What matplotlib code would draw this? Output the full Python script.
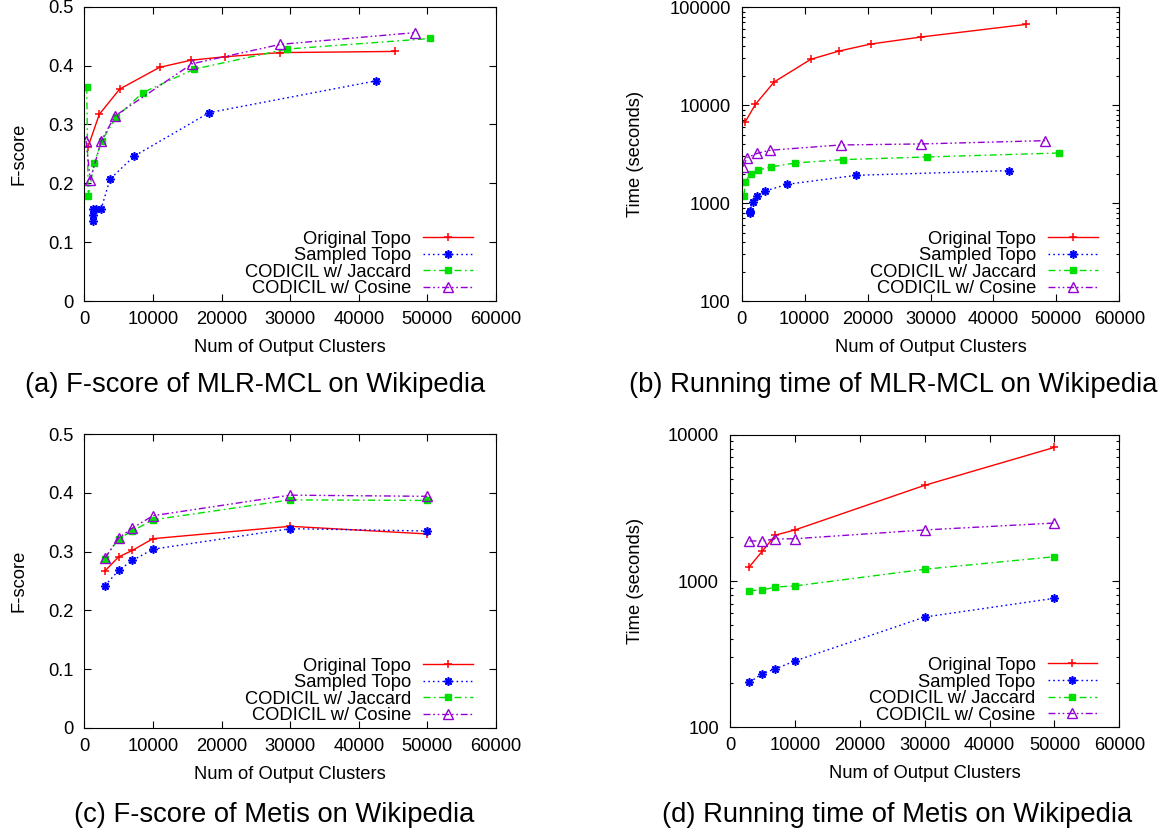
import numpy as np
import matplotlib
matplotlib.use("Agg")
import matplotlib.pyplot as plt
from matplotlib.ticker import FixedLocator, FuncFormatter, LogLocator, NullFormatter

# ---- data ----
# (a)/(b) MLR-MCL on Wikipedia
mlr_orig_x = [550, 2180, 5150, 10970, 15500, 20520, 28530, 45230]
mlr_orig_f = [0.262, 0.317, 0.360, 0.397, 0.409, 0.415, 0.422, 0.424]
mlr_orig_t = [6740, 10200, 17270, 29420, 35800, 42170, 49750, 66950]

mlr_samp_x = [1250, 1300, 1330, 1750, 2450, 3750, 7250, 18200, 42500]
mlr_samp_f = [0.136, 0.146, 0.156, 0.156, 0.156, 0.207, 0.246, 0.320, 0.374]
mlr_samp_t = [800, 820, 840, 1035, 1183, 1330, 1556, 1922, 2147]

mlr_jac_x = [355, 560, 1470, 2520, 4640, 8510, 16040, 29520, 50420]
mlr_jac_f = [0.364, 0.178, 0.235, 0.272, 0.312, 0.354, 0.394, 0.428, 0.446]
mlr_jac_t = [1191, 1656, 2000, 2163, 2339, 2570, 2780, 2960, 3250]

mlr_cos_x = [255, 860, 2480, 4430, 15700, 28560, 48220]
mlr_cos_f = [0.272, 0.206, 0.272, 0.314, 0.403, 0.436, 0.456]
mlr_cos_t = [2356, 2913, 3226, 3462, 3925, 4020, 4345]

# (c)/(d) Metis on Wikipedia
metis_x = [3000, 5000, 7000, 10000, 30000, 50000]
metis_orig_f = [0.267, 0.291, 0.302, 0.322, 0.343, 0.330]
metis_samp_f = [0.242, 0.268, 0.285, 0.304, 0.339, 0.335]
metis_jac_f = [0.288, 0.322, 0.335, 0.354, 0.388, 0.387]
metis_cos_f = [0.289, 0.323, 0.340, 0.361, 0.396, 0.394]
metis_orig_t = [1253, 1603, 2060, 2233, 4508, 8190]
metis_samp_t = [203, 233, 251, 284, 567, 762]
metis_jac_t = [859, 868, 910, 925, 1203, 1466]
metis_cos_t = [1877, 1880, 1937, 1945, 2233, 2490]

labels = ["Original Topo", "Sampled Topo", "CODICIL w/ Jaccard", "CODICIL w/ Cosine"]

plt.rcParams["font.family"] = ["Liberation Sans", "DejaVu Sans"]
plt.rcParams["font.size"] = 13.2

W, H = 1159, 831
fig = plt.figure(figsize=(W / 100, H / 100), dpi=100)


def px_axes(l, t, r, b):
    return fig.add_axes([l / W, 1 - b / H, (r - l) / W, (b - t) / H])


styles = [
    dict(color="#ff0000", ls="-", marker="+", ms=6, mew=1.1),
    dict(color="#0000ff", ls=(0, (1.2, 2.2)), marker=(8, 2, 0), ms=6, mew=1.2),
    dict(color="#00e000", ls=(0, (5, 2.5, 1.2, 2.5)), marker="s", ms=5),
    dict(color="#9400d3", ls=(0, (5, 2, 1.2, 2, 1.2, 2)), marker="^", ms=6.5,
         mfc="none", mew=1.0),
]


def draw(ax, series, logy, ylabel, ylab_x):
    for (xs, ys), st, lab in zip(series, styles, labels):
        ax.plot(xs, ys, lw=1.0, label=lab, **st)
    ax.set_xlim(0, 60000)
    ax.xaxis.set_major_locator(FixedLocator(np.arange(0, 60001, 10000)))
    ax.xaxis.set_major_formatter(FuncFormatter(lambda v, p: "%d" % v))
    if logy:
        ax.set_yscale("log")
        ax.yaxis.set_major_locator(LogLocator(base=10, numticks=10))
        ax.yaxis.set_minor_locator(LogLocator(base=10, subs=np.arange(2, 10), numticks=10))
        ax.yaxis.set_minor_formatter(NullFormatter())
        ax.yaxis.set_major_formatter(FuncFormatter(lambda v, p: "%d" % round(v)))
    else:
        ax.set_ylim(0, 0.5)
        ax.yaxis.set_major_locator(FixedLocator(np.arange(0, 0.51, 0.1)))
        ax.yaxis.set_major_formatter(FuncFormatter(lambda v, p: "%g" % round(v, 1)))
    ax.tick_params(which="both", direction="in", top=True, right=True, width=0.8)
    ax.tick_params(which="major", length=5, pad=8)
    ax.tick_params(which="minor", length=2.5)
    ax.tick_params(axis="x", pad=7)
    for sp in ax.spines.values():
        sp.set_linewidth(0.8)
    ax.set_xlabel("Num of Output Clusters")
    ax.xaxis.set_label_coords(0.5, -0.13)
    ax.set_ylabel(ylabel)
    ax.yaxis.set_label_coords(ylab_x, 0.5)
    ax.legend(loc="lower right", bbox_to_anchor=(0.943, 0.012), frameon=False,
              markerfirst=False, borderpad=0, borderaxespad=0, handlelength=2.7,
              handletextpad=0.65, labelspacing=-0.02, numpoints=1)


ax_a = px_axes(84.3, 6.7, 496, 301)
ax_b = px_axes(741.7, 7.3, 1119.3, 301)
ax_c = px_axes(84.3, 434, 496, 728)
ax_d = px_axes(730, 434.7, 1119.3, 727.3)

draw(ax_a, [(mlr_orig_x, mlr_orig_f), (mlr_samp_x, mlr_samp_f),
            (mlr_jac_x, mlr_jac_f), (mlr_cos_x, mlr_cos_f)], False, "F-score", -0.139)
draw(ax_b, [(mlr_orig_x, mlr_orig_t), (mlr_samp_x, mlr_samp_t),
            (mlr_jac_x, mlr_jac_t), (mlr_cos_x, mlr_cos_t)], True, "Time (seconds)", -0.259)
ax_b.set_ylim(100, 100000)
draw(ax_c, [(metis_x, metis_orig_f), (metis_x, metis_samp_f),
            (metis_x, metis_jac_f), (metis_x, metis_cos_f)], False, "F-score", -0.139)
draw(ax_d, [(metis_x, metis_orig_t), (metis_x, metis_samp_t),
            (metis_x, metis_jac_t), (metis_x, metis_cos_t)], True, "Time (seconds)", -0.221)
ax_d.set_ylim(100, 10000)

caps = [("(a) F-score of MLR-MCL on Wikipedia", 255, 385),
        ("(b) Running time of MLR-MCL on Wikipedia", 893, 385),
        ("(c) F-score of Metis on Wikipedia", 274, 815),
        ("(d) Running time of Metis on Wikipedia", 897, 815)]
for txt, cx, cy in caps:
    fig.text(cx / W, 1 - cy / H, txt, ha="center", va="center", fontsize=19.7)

fig.savefig("out.png", dpi=100)
